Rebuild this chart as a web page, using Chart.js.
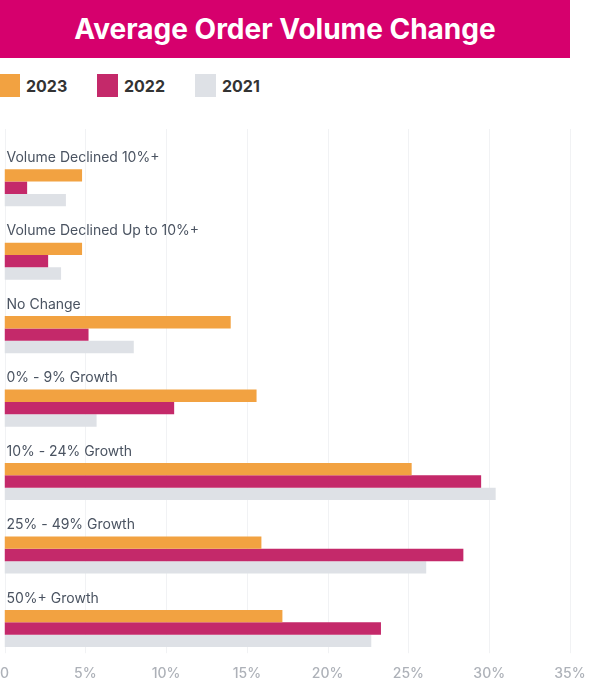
<!DOCTYPE html>
<html>
<head>
<meta charset="utf-8">
<script src="https://cdn.jsdelivr.net/npm/chart.js@4.4.1/dist/chart.umd.min.js"></script>
<style>
  body { margin: 0; background: #fff; width: 599px; height: 685px; position: relative; overflow: hidden; font-family: Inter, sans-serif; }
  #title { position: absolute; left: 0; top: 0; width: 570px; height: 58px; background: #D6006D; color: #fff;
           font: 700 28px Inter, sans-serif; display: flex; align-items: center; justify-content: center; }
  #legend { position: absolute; left: 0; top: 74px; height: 23px; width: 599px; }
  .item { position: absolute; top: 0; height: 23px; display: flex; align-items: center; }
  .box { width: 21px; height: 23px; box-sizing: border-box; }
  .item span { margin-left: 6px; font: 700 16px Inter, sans-serif; color: #333; }
  #wrap { position: absolute; left: 0; top: 100px; width: 599px; height: 585px; }
</style>
</head>
<body>
<div id="title">Average Order Volume Change</div>
<div id="legend"></div>
<div id="wrap"><canvas id="chartBar"></canvas></div>
<script>
var categories = ["Volume Declined 10%+", "Volume Declined Up to 10%+", "No Change", "0% - 9% Growth", "10% - 24% Growth", "25% - 49% Growth", "50%+ Growth"];
var seriesNames = ["2023", "2022", "2021"];
var values2023 = [4.8, 4.8, 14.0, 15.6, 25.2, 15.9, 17.2];
var values2022 = [1.4, 2.7, 5.2, 10.5, 29.5, 28.4, 23.3];
var values2021 = [3.8, 3.5, 8.0, 5.7, 30.4, 26.1, 22.7];
var xTicks = [0, 5, 10, 15, 20, 25, 30, 35];

var barColours = ["#F2A241", "#C4296A", "#DEE1E6"];
var legendX = [-1, 97, 195];

// legend drawn as plain html, boxes sit flush with the left edge
function buildLegend(){
  var legend = document.getElementById("legend");
  for(var i = 0; i < seriesNames.length; i++){
    var item = document.createElement("div");
    item.className = "item";
    item.style.left = legendX[i] + "px";
    var box = document.createElement("div");
    box.className = "box";
    box.style.background = barColours[i];
    var text = document.createElement("span");
    text.textContent = seriesNames[i];
    item.appendChild(box);
    item.appendChild(text);
    legend.appendChild(item);
  }
}

// faint vertical grid that starts a bit above the first group and stops above the tick labels
// drawn first so the category labels sit on top of it
var gridLines = {
  id: "gridLines",
  beforeDraw: function(chart){
    var c = chart.ctx;
    var area = chart.chartArea;
    var xs = chart.scales.x;
    c.save();
    c.strokeStyle = "#F1F2F4";
    c.lineWidth = 1;
    xs.ticks.forEach(function(t){
      var px = Math.round(xs.getPixelForValue(t.value)) + 0.5;
      c.beginPath();
      c.moveTo(px, area.top - 22);
      c.lineTo(px, area.bottom - 12);
      c.stroke();
    });
    c.restore();
  }
};

function createBarChart(){
  var ctx = document.getElementById("chartBar").getContext("2d");
  var allValues = [values2023, values2022, values2021];
  var datasets = [];
  for(var i = 0; i < seriesNames.length; i++){
    datasets.push({
      label: seriesNames[i],
      data: allValues[i],
      backgroundColor: barColours[i],
      borderWidth: 0,
      categoryPercentage: 0.505,
      barPercentage: 1.0
    });
  }

  new Chart(ctx, {
    type: "bar",
    data: { labels: categories, datasets: datasets },
    plugins: [gridLines],
    options: {
      indexAxis: "y",
      responsive: true,
      maintainAspectRatio: false,
      animation: false,
      layout: { padding: { top: 51, left: -1, right: 29, bottom: 3 } },
      plugins: { legend: { display: false }, tooltip: { enabled: false } },
      scales: {
        x: {
          min: 0,
          max: 35,
          afterBuildTicks: function(scale){
            scale.ticks = xTicks.map(function(v){ return { value: v }; });
          },
          ticks: {
            color: "#ADB1B8",
            font: { family: "Inter", size: 14, weight: "500" },
            padding: 0,
            maxRotation: 0,
            callback: function(v){ return v === 0 ? "0" : v + "%"; }
          },
          grid: { display: false, drawTicks: false },
          border: { display: false }
        },
        y: {
          ticks: {
            mirror: true,
            padding: 2,
            labelOffset: -30,
            color: "#4A5361",
            font: { family: "Inter", size: 14 }
          },
          grid: { display: false, drawTicks: false },
          border: { display: false }
        }
      }
    }
  });
}

buildLegend();
createBarChart();
</script>
</body>
</html>
